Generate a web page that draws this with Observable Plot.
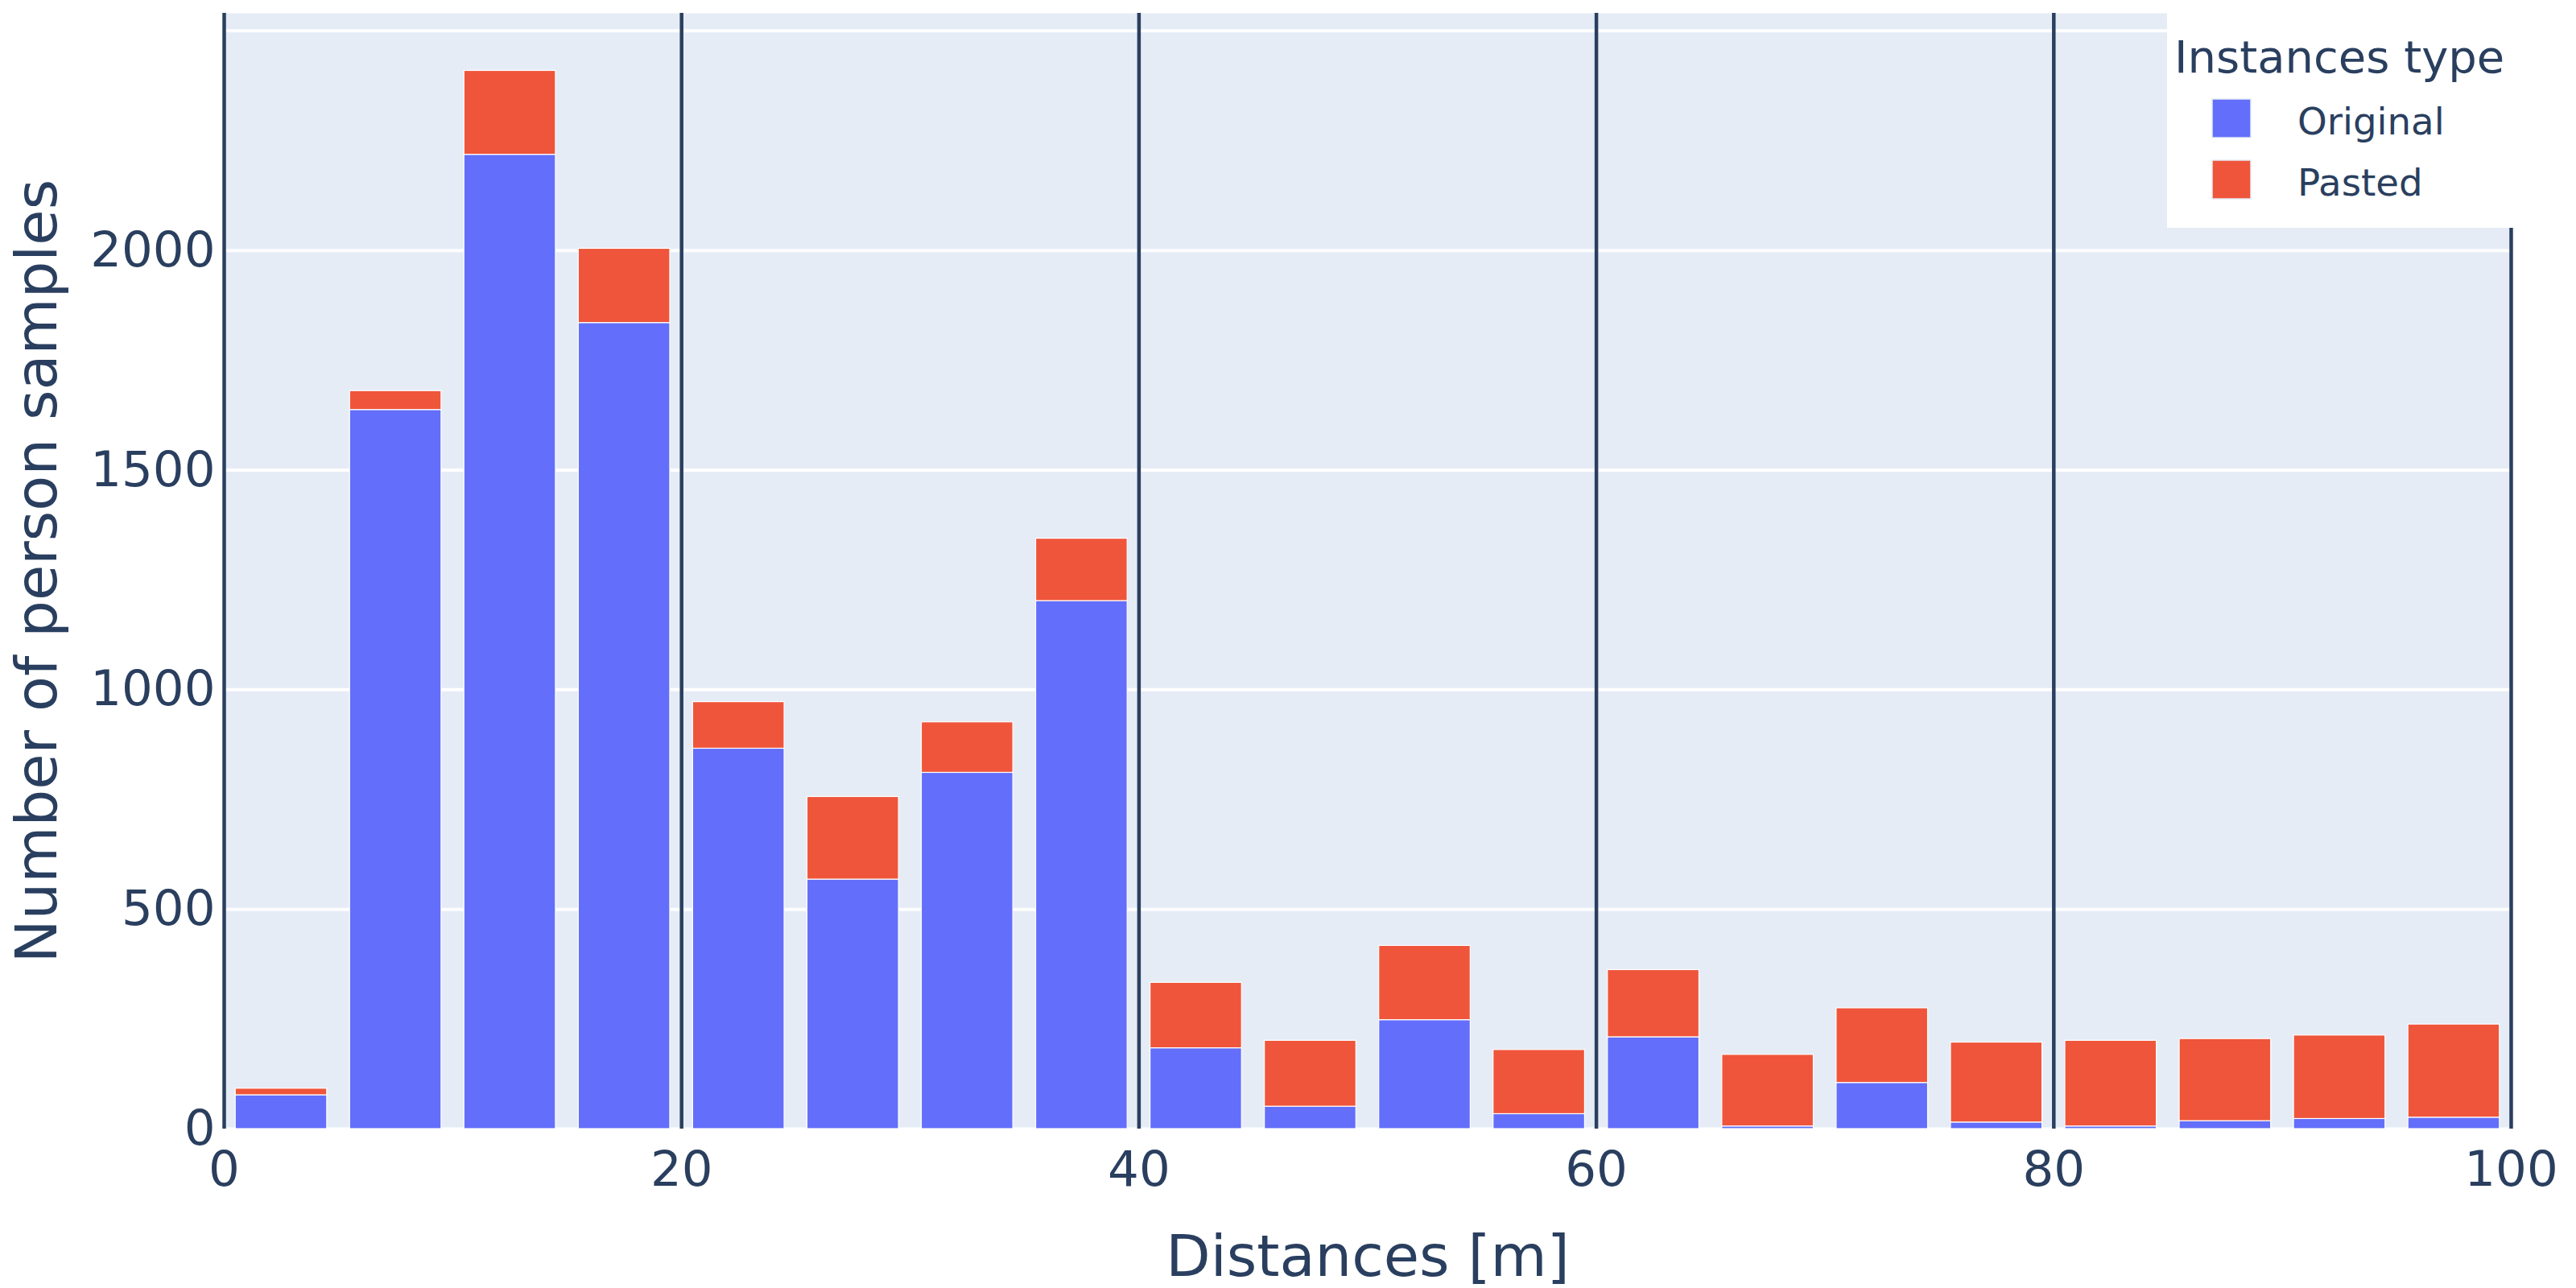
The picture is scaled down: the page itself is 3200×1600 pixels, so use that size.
<!DOCTYPE html>
<html>
<head>
<meta charset="utf-8">
<script src="https://cdn.jsdelivr.net/npm/d3@7"></script>
<script src="https://cdn.jsdelivr.net/npm/@observablehq/plot@0.6"></script>
<style>
  html, body { margin: 0; padding: 0; background: #ffffff; }
  #chart { position: relative; width: 3200px; height: 1600px; font-family: "DejaVu Sans", sans-serif; }
  #legend { position: absolute; left: 2692px; top: 0px; }
</style>
</head>
<body>
<div id="chart"></div>
<script>
// ---- data ----
const binStarts = [0, 5, 10, 15, 20, 25, 30, 35, 40, 45, 50, 55, 60, 65, 70, 75, 80, 85, 90, 95];
const binWidth = 5;
const original = [77, 1637, 2218, 1835, 866, 568, 811, 1202, 184, 51, 248, 34, 209, 6, 105, 15, 6, 18, 23, 26];
const pasted   = [15, 43, 191, 169, 106, 188, 115, 142, 149, 150, 169, 146, 153, 163, 170, 182, 195, 187, 190, 212];
const seriesNames = ["Original", "Pasted"];
const seriesColors = ["#636efa", "#EF553B"];
const xTicks = [0, 20, 40, 60, 80, 100];
const yTicks = [0, 500, 1000, 1500, 2000];
const yGrid = [0, 500, 1000, 1500, 2000, 2500];
const dividerLines = [0, 20, 40, 60, 80, 100];
const xDomain = [0, 100];
const yDomain = [0, 2540];
const legendTitle = "Instances type";
const xTitle = "Distances [m]";
const yTitle = "Number of person samples";

// ---- table for Plot ----
const rows = [];
binStarts.forEach((s, i) => {
  rows.push({start: s, end: s + binWidth, type: seriesNames[0], value: original[i]});
  rows.push({start: s, end: s + binWidth, type: seriesNames[1], value: pasted[i]});
});

const W = 3200, H = 1600;
const mL = 278, mR = 81, mT = 16, mB = 198;
const textColor = "#2a3f5f";
const innerW = W - mL - mR;
const barInset = 0.1 * binWidth * innerW / (xDomain[1] - xDomain[0]);

const chart = Plot.plot({
  width: W,
  height: H,
  marginLeft: mL,
  marginRight: mR,
  marginTop: mT,
  marginBottom: mB,
  style: {fontFamily: "DejaVu Sans, sans-serif", fontSize: "61px", color: textColor, background: "#ffffff"},
  x: {domain: xDomain, ticks: xTicks, tickSize: 0, tickPadding: 27, label: null, tickFormat: d => String(d)},
  y: {domain: yDomain, ticks: yTicks, tickSize: 0, tickPadding: 11, label: null, tickFormat: d => String(d)},
  color: {domain: seriesNames, range: seriesColors},
  marks: [
    Plot.frame({fill: "#E5ECF6", stroke: "none"}),
    Plot.ruleY(yGrid, {stroke: "#ffffff", strokeWidth: 4}),
    Plot.rectY(rows, Plot.stackY({
      x: "start", x1: "start", x2: "end", y: "value", fill: "type",
      insetLeft: barInset, insetRight: barInset,
      stroke: "#ffffff", strokeWidth: 1.2
    })),
    Plot.ruleX(dividerLines, {stroke: textColor, strokeWidth: 4.5}),
    Plot.text([xTitle], {frameAnchor: "bottom", dy: 182, lineAnchor: "bottom", textAnchor: "middle", fontSize: 72, fill: textColor}),
    Plot.text([yTitle], {frameAnchor: "left", rotate: -90, dx: -209, lineAnchor: "bottom", textAnchor: "middle", fontSize: 72, fill: textColor})
  ]
});

const root = document.getElementById("chart");
root.appendChild(chart);

// ---- legend overlay ----
const lg = d3.select(root).append("svg")
  .attr("id", "legend")
  .attr("width", 508)
  .attr("height", 283)
  .style("font-family", "DejaVu Sans, sans-serif");
lg.append("rect").attr("width", 508).attr("height", 283).attr("fill", "#ffffff");
lg.append("text").attr("x", 9).attr("y", 90).attr("font-size", 56).attr("fill", textColor).text(legendTitle);
seriesNames.forEach((name, i) => {
  lg.append("rect")
    .attr("x", 56).attr("y", 123 + i * 76)
    .attr("width", 48).attr("height", 48)
    .attr("fill", seriesColors[i])
    .attr("stroke", "#E5ECF6").attr("stroke-width", 1.5);
  lg.append("text")
    .attr("x", 162).attr("y", 167 + i * 76)
    .attr("font-size", 46.7).attr("fill", textColor)
    .text(name);
});
</script>
</body>
</html>
